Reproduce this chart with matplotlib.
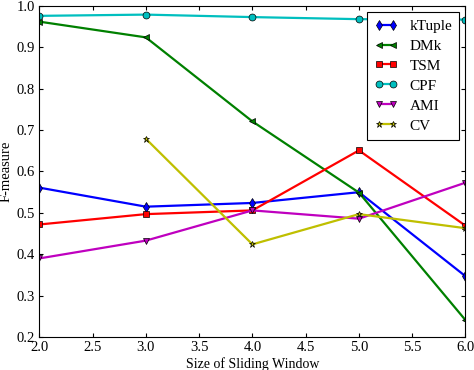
import numpy as np
import matplotlib
matplotlib.use("Agg")
import matplotlib.pyplot as plt

window = [2.0, 3.0, 4.0, 5.0, 6.0]
ktuple = [0.561, 0.515, 0.524, 0.550, 0.347]
dmk = [0.962, 0.924, 0.721, 0.549, 0.241]
tsm = [0.472, 0.497, 0.506, 0.651, 0.469]
cpf = [0.976, 0.979, 0.973, 0.968, 0.967]
ami = [0.390, 0.433, 0.506, 0.486, 0.573]
cv = [np.nan, 0.679, 0.424, 0.497, 0.463]

series = [
    ("kTuple", ktuple, "#0000ff", "d"),
    ("DMk", dmk, "#008000", "<"),
    ("TSM", tsm, "#ff0000", "s"),
    ("CPF", cpf, "#00bfbf", "o"),
    ("AMI", ami, "#bf00bf", "v"),
    ("CV", cv, "#bfbf00", "*"),
]

plt.rcParams["font.family"] = ["Liberation Serif", "DejaVu Serif"]

fig = plt.figure(figsize=(4.74, 3.70), dpi=100)
ax = fig.add_axes([0.083, 0.089, 0.899, 0.895])

for name, vals, color, marker in series:
    ax.plot(window, vals, color=color, marker=marker, lw=1.6, ms=5,
            mec="black", mew=0.5, label=name)

ax.set_xlim(2.0, 6.0)
ax.set_ylim(0.2, 1.0)
ax.set_xticks(np.arange(2.0, 6.01, 0.5))
ax.set_yticks(np.arange(0.2, 1.01, 0.1))
ax.tick_params(direction="in", top=True, right=True, labelsize=10.5, length=3, pad=3)
ax.set_xlabel("Size of Sliding Window", fontsize=10, labelpad=2)
ax.set_ylabel("F-measure", fontsize=10.5, labelpad=3)

leg = ax.legend(loc="upper right", fontsize=11, fancybox=False, framealpha=1,
                edgecolor="black", borderaxespad=0.42, handlelength=1.5,
                numpoints=2, labelspacing=0.41, handletextpad=0.8, borderpad=0.45)
leg.get_frame().set_linewidth(0.8)

fig.savefig("out.png", dpi=100, facecolor="white")
